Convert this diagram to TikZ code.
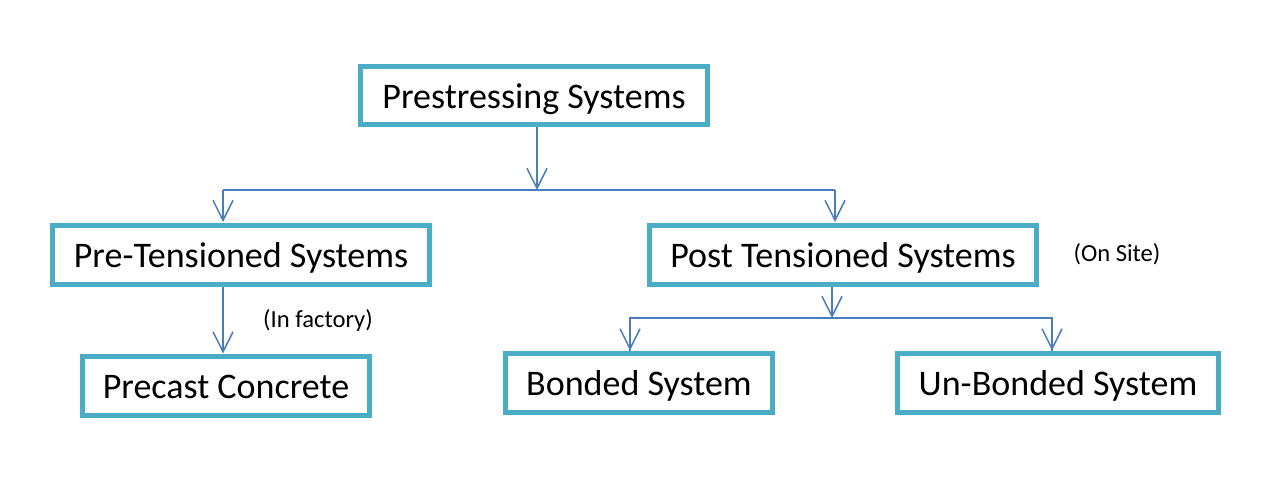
\documentclass[tikz,border=0pt]{standalone}
\usepackage{fontspec}
\setmainfont{Carlito}
\usetikzlibrary{arrows.meta}

\definecolor{boxteal}{HTML}{4BACC6}
\definecolor{linkblue}{HTML}{4A7EBB}

\tikzset{
	sysbox/.style={draw=boxteal, line width=0.1cm, fill=white, inner sep=0pt,
		minimum height=1.2cm, text height=0.52cm, text depth=0cm,
		font=\fontsize{20.5}{24}\selectfont},
	link/.style={draw=linkblue, line width=0.03cm},
	linkarrow/.style={link, -{Straight Barb[length=0.4cm, width=0.4cm]}},
	remark/.style={font=\fontsize{14}{17}\selectfont}
}

\begin{document}
\begin{tikzpicture}[x=0.02cm, y=-0.02cm]
		\useasboundingbox (0,0) rectangle (1280,492);
		
		% Top level
		\node[sysbox, minimum width=6.94cm, minimum height=1.16cm] (prestress) at (534,96) {Prestressing Systems};
		
		% Second level
		\node[sysbox, minimum width=7.54cm] (pretens) at (241,255) {Pre-Tensioned Systems};
		\node[sysbox, minimum width=7.76cm] (posttens) at (843,255) {Post Tensioned Systems};
		
		% Third level
		\node[sysbox, minimum width=5.76cm] (precast) at (226,386) {Precast Concrete};
		\node[sysbox, minimum width=5.34cm] (bonded) at (639,383) {Bonded System};
		\node[sysbox, minimum width=6.44cm] (unbonded) at (1058,383) {Un-Bonded System};
		
		% Remarks next to the branches
		\node[remark] (factory) at (318,320) {(In factory)};
		\node[remark] (site) at (1117,254) {(On Site)};
		
		% Junction points of the branch lines
		\coordinate (split1) at (537,190);
		\coordinate (split2) at (832,318);
		\coordinate (preIn) at (223,222);
		\coordinate (postIn) at (835,222);
		
		% Prestressing Systems splits into two
		\draw[linkarrow] (prestress.south -| split1) -- (split1);
		\draw[link] (preIn |- split1) -- (postIn |- split1);
		\draw[linkarrow] (preIn |- split1) -- (preIn);
		\draw[linkarrow] (postIn |- split1) -- (postIn);
		
		% Pre-tensioned goes to precast
		\draw[linkarrow] (pretens.south -| preIn) -- (precast.north -| preIn);
		
		% Post-tensioned splits into two
		\draw[linkarrow] (posttens.south -| split2) -- (split2);
		\draw[link] (bonded.north -| 630,0) |- (split2) -| (unbonded.north -| 1052,0);
		\draw[linkarrow] (630,318) -- (bonded.north -| 630,0);
		\draw[linkarrow] (1052,318) -- (unbonded.north -| 1052,0);
		
	\end{tikzpicture}
\end{document}
